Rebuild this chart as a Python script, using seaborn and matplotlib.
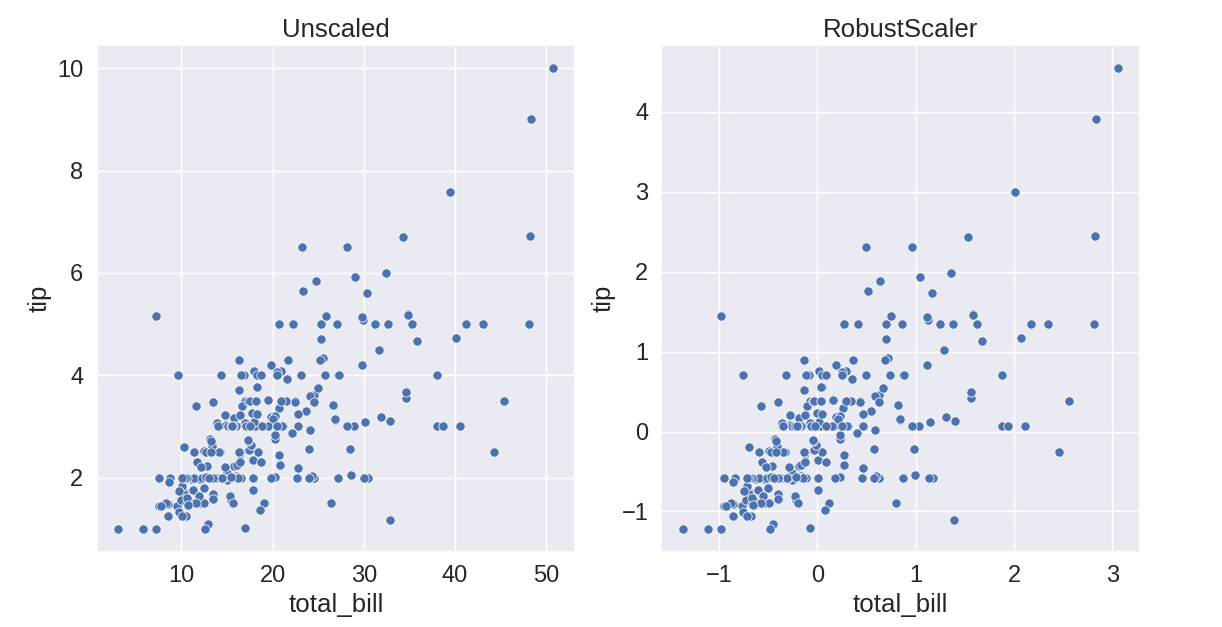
import numpy as np
import pandas as pd
import seaborn as sns
import matplotlib
matplotlib.use("Agg")
import matplotlib.pyplot as plt

total_bill = [16.99, 10.34, 21.01, 23.68, 24.59, 25.29, 8.77, 26.88, 15.04, 14.78, 10.27, 35.26, 15.42, 18.43, 14.83, 21.58, 10.33, 16.29, 16.97, 20.65,
              17.92, 20.29, 15.77, 39.42, 19.82, 17.81, 13.37, 12.69, 21.7, 19.65, 9.55, 18.35, 15.06, 20.69, 17.78, 24.06, 16.31, 16.93, 18.69, 31.27,
              16.04, 17.46, 13.94, 9.68, 30.4, 18.29, 22.23, 32.4, 28.55, 18.04, 12.54, 10.29, 34.81, 9.94, 25.56, 19.49, 38.01, 26.41, 11.24, 48.27,
              20.29, 13.81, 11.02, 18.29, 17.59, 20.08, 16.45, 3.07, 20.23, 15.01, 12.02, 17.07, 26.86, 25.28, 14.73, 10.51, 17.92, 27.2, 22.76, 17.29,
              19.44, 16.66, 10.07, 32.68, 15.98, 34.83, 13.03, 18.28, 24.71, 21.16, 28.97, 22.49, 5.75, 16.32, 22.75, 40.17, 27.28, 12.03, 21.01, 12.46,
              11.35, 15.38, 44.3, 22.42, 20.92, 15.36, 20.49, 25.21, 18.24, 14.31, 14.0, 7.25, 38.07, 23.95, 25.71, 17.31, 29.93, 10.65, 12.43, 24.08,
              11.69, 13.42, 14.26, 15.95, 12.48, 29.8, 8.52, 14.52, 11.38, 22.82, 19.08, 20.27, 11.17, 12.26, 18.26, 8.51, 10.33, 14.15, 16.0, 13.16,
              17.47, 34.3, 41.19, 27.05, 16.43, 8.35, 18.64, 11.87, 9.78, 7.51, 14.07, 13.13, 17.26, 24.55, 19.77, 29.85, 48.17, 25.0, 13.39, 16.49,
              21.5, 12.66, 16.21, 13.81, 17.51, 24.52, 20.76, 31.71, 10.59, 10.63, 50.81, 15.81, 7.25, 31.85, 16.82, 32.9, 17.89, 14.48, 9.6, 34.63,
              34.65, 23.33, 45.35, 23.17, 40.55, 20.69, 20.9, 30.46, 18.15, 23.1, 15.69, 19.81, 28.44, 15.48, 16.58, 7.56, 10.34, 43.11, 13.0, 13.51,
              18.71, 12.74, 13.0, 16.4, 20.53, 16.47, 26.59, 38.73, 24.27, 12.76, 30.06, 25.89, 48.33, 13.27, 28.17, 12.9, 28.15, 11.59, 7.74, 30.14,
              12.16, 13.42, 8.58, 15.98, 13.42, 16.27, 10.09, 20.45, 13.28, 22.12, 24.01, 15.69, 11.61, 10.77, 15.53, 10.07, 12.6, 32.83, 35.83, 29.03,
              27.18, 22.67, 17.82, 18.78]
tip = [1.01, 1.66, 3.5, 3.31, 3.61, 4.71, 2.0, 3.12, 1.96, 3.23, 1.71, 5.0, 1.57, 3.0, 3.02, 3.92, 1.67, 3.71, 3.5, 3.35,
       4.08, 2.75, 2.23, 7.58, 3.18, 2.34, 2.0, 2.0, 4.3, 3.0, 1.45, 2.5, 3.0, 2.45, 3.27, 3.6, 2.0, 3.07, 2.31, 5.0,
       2.24, 2.54, 3.06, 1.32, 5.6, 3.0, 5.0, 6.0, 2.05, 3.0, 2.5, 2.6, 5.2, 1.56, 4.34, 3.51, 3.0, 1.5, 1.76, 6.73,
       3.21, 2.0, 1.98, 3.76, 2.64, 3.15, 2.47, 1.0, 2.01, 2.09, 1.97, 3.0, 3.14, 5.0, 2.2, 1.25, 3.08, 4.0, 3.0, 2.71,
       3.0, 3.4, 1.83, 5.0, 2.03, 5.17, 2.0, 4.0, 5.85, 3.0, 3.0, 3.5, 1.0, 4.3, 3.25, 4.73, 4.0, 1.5, 3.0, 1.5,
       2.5, 3.0, 2.5, 3.48, 4.08, 1.64, 4.06, 4.29, 3.76, 4.0, 3.0, 1.0, 4.0, 2.55, 4.0, 3.5, 5.07, 1.5, 1.8, 2.92,
       2.31, 1.68, 2.5, 2.0, 2.52, 4.2, 1.48, 2.0, 2.0, 2.18, 1.5, 2.83, 1.5, 2.0, 3.25, 1.25, 2.0, 2.0, 2.0, 2.75,
       3.5, 6.7, 5.0, 5.0, 2.3, 1.5, 1.36, 1.63, 1.73, 2.0, 2.5, 2.0, 2.74, 2.0, 2.0, 5.14, 5.0, 3.75, 2.61, 2.0,
       3.5, 2.5, 2.0, 2.0, 3.0, 3.48, 2.24, 4.5, 1.61, 2.0, 10.0, 3.16, 5.15, 3.18, 4.0, 3.11, 2.0, 2.0, 4.0, 3.55,
       3.68, 5.65, 3.5, 6.5, 3.0, 5.0, 3.5, 2.0, 3.5, 4.0, 1.5, 4.19, 2.56, 2.02, 4.0, 1.44, 2.0, 5.0, 2.0, 2.0,
       4.0, 2.01, 2.0, 2.5, 4.0, 3.23, 3.41, 3.0, 2.03, 2.23, 2.0, 5.16, 9.0, 2.5, 6.5, 1.1, 3.0, 1.5, 1.44, 3.09,
       2.2, 3.48, 1.92, 3.0, 1.58, 2.5, 2.0, 3.0, 2.72, 2.88, 2.0, 3.0, 3.39, 1.47, 3.0, 1.25, 1.0, 1.17, 4.67, 5.92,
       2.0, 2.0, 1.75, 3.0]

tips = pd.DataFrame({"total_bill": total_bill, "tip": tip})


def robust_scale(s):
    q1, med, q3 = np.percentile(s, [25, 50, 75])
    return (s - med) / (q3 - q1)


scaled = tips.apply(robust_scale)

sns.set_theme(style="darkgrid", font_scale=1.55, font="Liberation Sans")
fig, axes = plt.subplots(1, 2, figsize=(12.22, 6.27), dpi=100)
sns.scatterplot(data=tips, x="total_bill", y="tip", ax=axes[0], s=45)
axes[0].set_title("Unscaled")
sns.scatterplot(data=scaled, x="total_bill", y="tip", ax=axes[1], s=45)
axes[1].set_title("RobustScaler")
fig.subplots_adjust(left=0.079, right=0.933, bottom=0.12, top=0.928, wspace=0.18)
fig.savefig("out.png")
